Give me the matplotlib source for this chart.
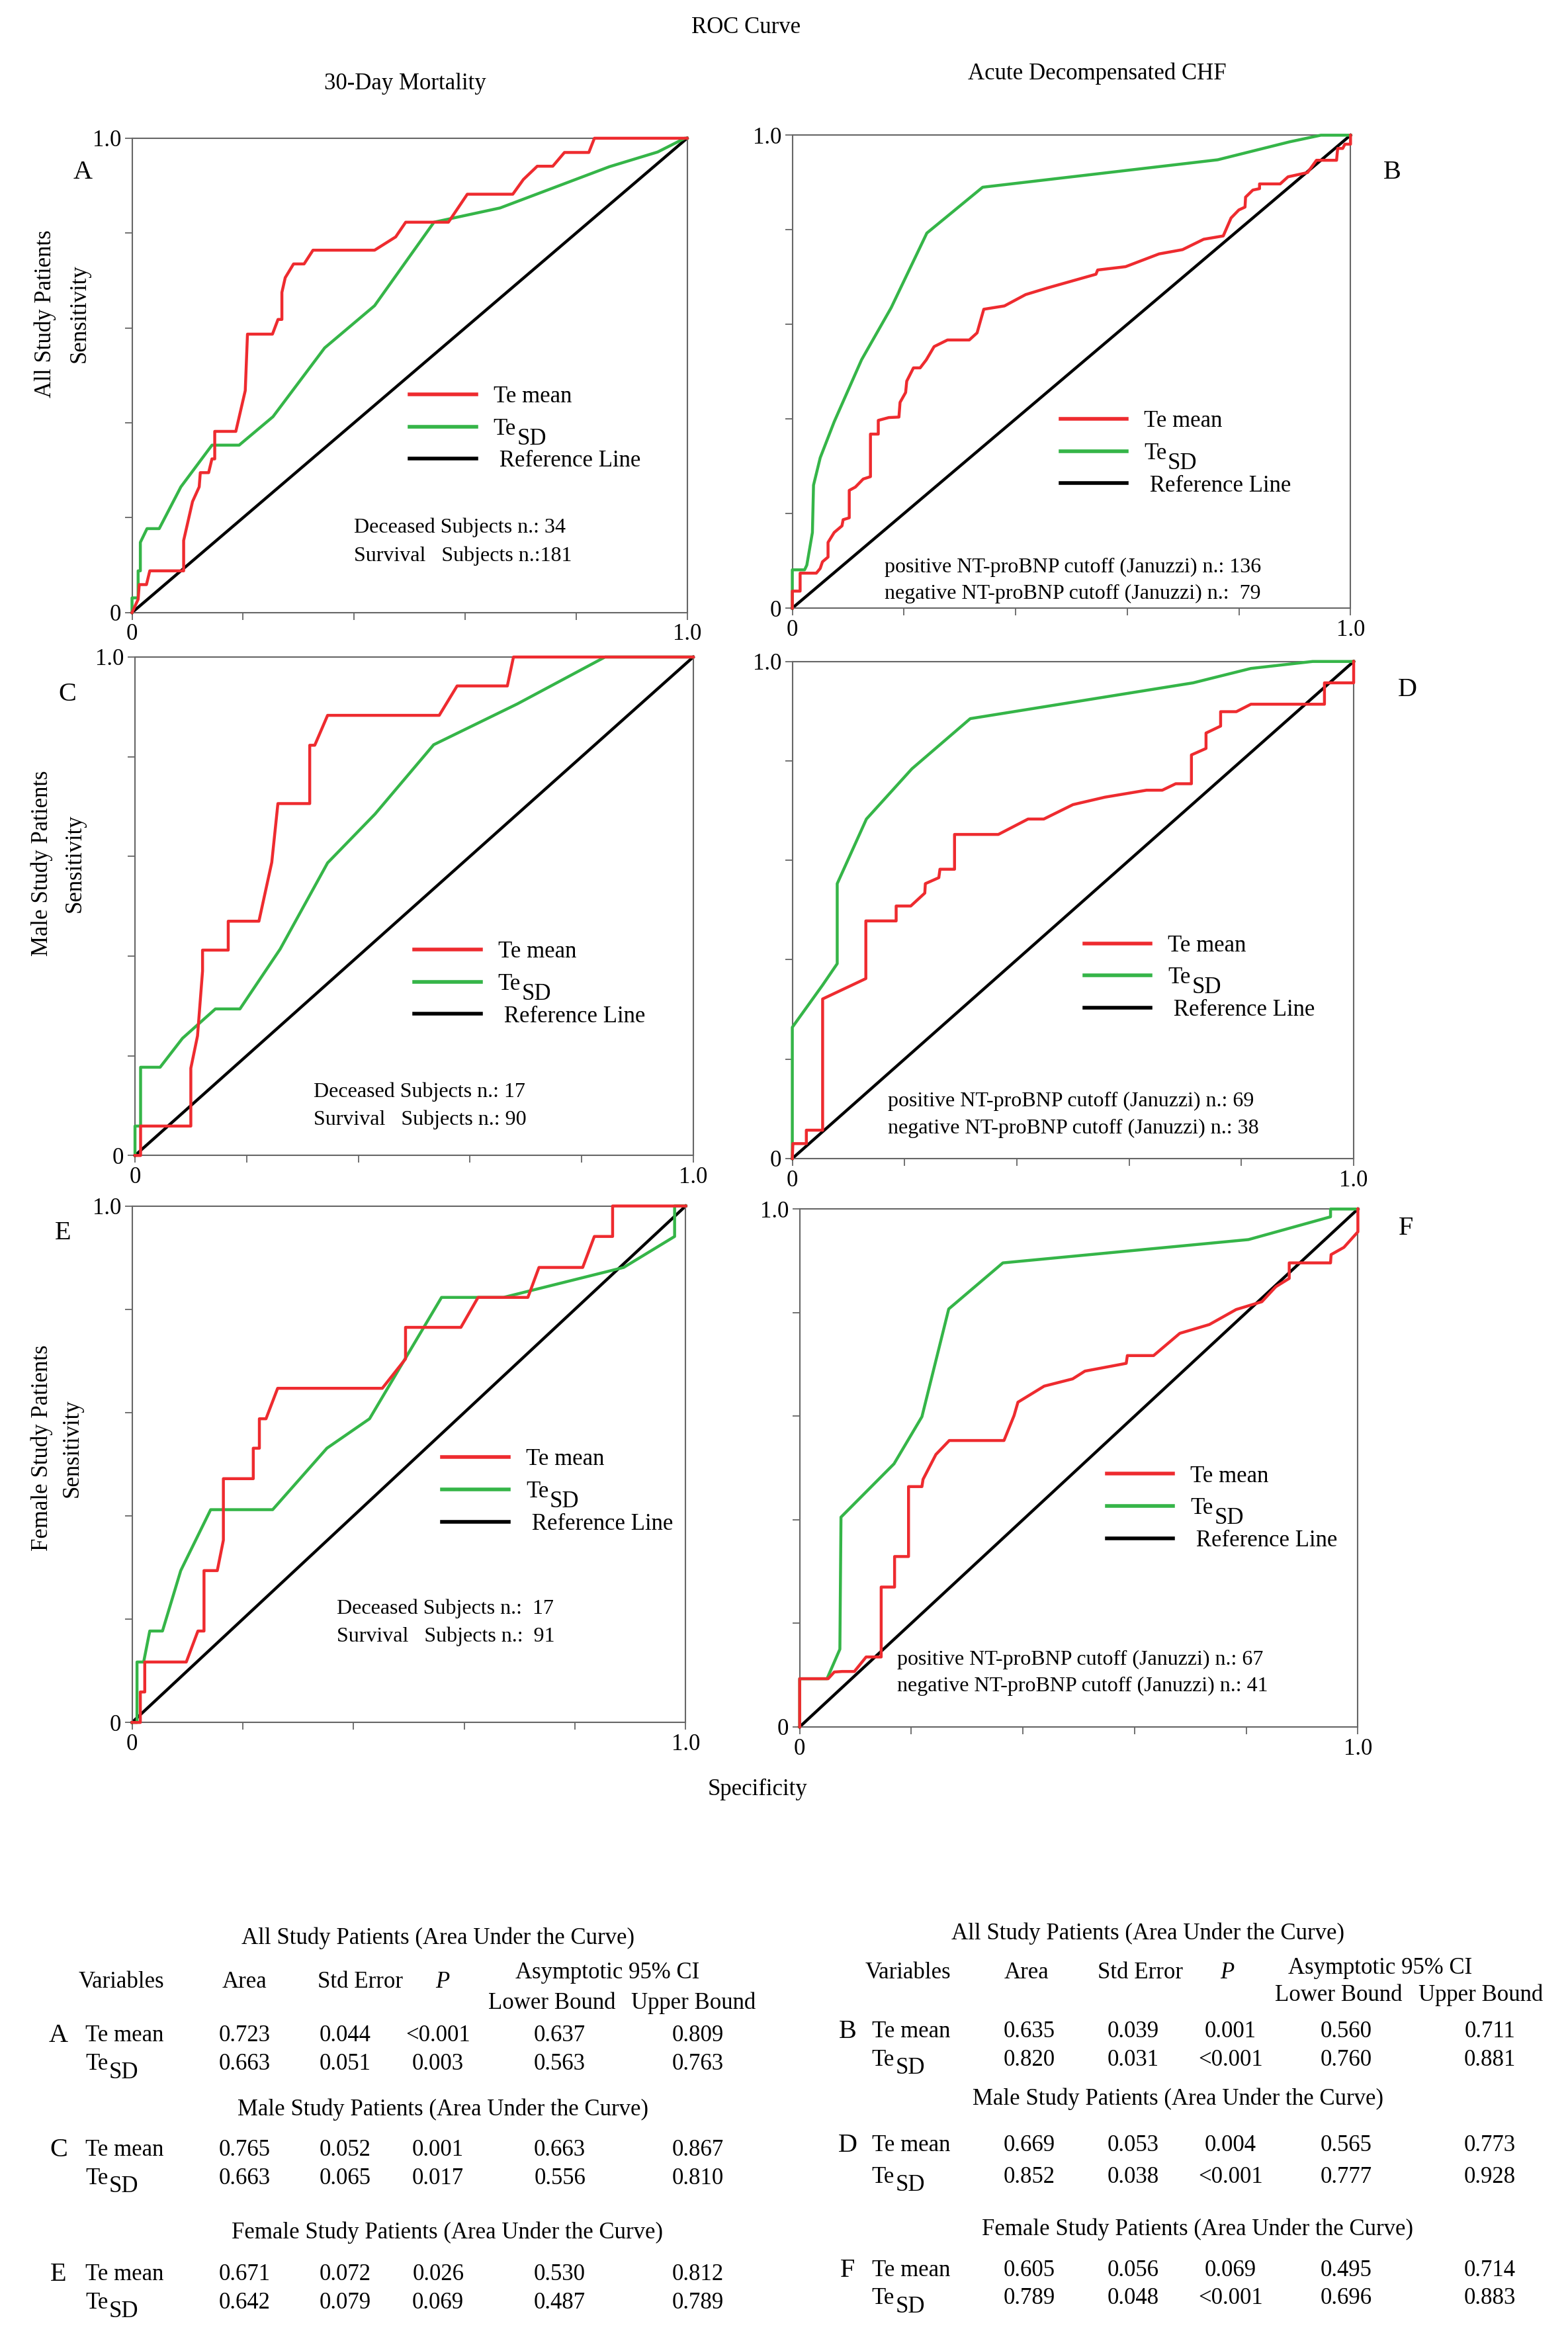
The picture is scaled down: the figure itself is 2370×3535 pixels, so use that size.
import matplotlib
matplotlib.use("Agg")
import matplotlib.pyplot as plt
import numpy as np
from matplotlib.lines import Line2D
from matplotlib.text import Annotation

plt.rcParams['font.family'] = ['Liberation Serif', 'DejaVu Serif']

RED = '#ee2b2f'
GREEN = '#35b548'
FS = 25      # general text
FS_NOTE = 23  # n.: notes inside the panels
FS_LET = 29  # panel letters

# ---- ROC curve points (x = 1 - specificity, y = sensitivity)
a_mean_x = [0, 0.011, 0.013, 0.026, 0.032, 0.093, 0.093, 0.109, 0.121, 0.123, 0.138, 0.144, 0.149, 0.149, 0.187,
            0.204, 0.208, 0.253, 0.263, 0.270, 0.270, 0.276, 0.291, 0.310, 0.326, 0.437, 0.475, 0.493, 0.570, 0.604,
            0.686, 0.705, 0.730, 0.758, 0.779, 0.823, 0.833, 1.0]
a_mean_y = [0, 0.028, 0.059, 0.059, 0.088, 0.088, 0.152, 0.234, 0.265, 0.295, 0.295, 0.324, 0.324, 0.382, 0.382,
            0.468, 0.587, 0.587, 0.618, 0.618, 0.675, 0.706, 0.735, 0.735, 0.764, 0.764, 0.792, 0.823, 0.823, 0.882,
            0.882, 0.913, 0.941, 0.941, 0.970, 0.970, 1.0, 1.0]
a_sd_x = [0, 0, 0.011, 0.011, 0.015, 0.015, 0.027, 0.049, 0.088, 0.144, 0.193, 0.254, 0.347, 0.437, 0.544,
          0.663, 0.860, 0.947, 0.996, 1.0]
a_sd_y = [0, 0.031, 0.031, 0.088, 0.088, 0.148, 0.177, 0.177, 0.265, 0.353, 0.353, 0.413, 0.558, 0.647, 0.823,
          0.853, 0.940, 0.971, 1.0, 1.0]

b_mean_x = [0, 0, 0.014, 0.014, 0.043, 0.050, 0.054, 0.064, 0.064, 0.075, 0.089, 0.091, 0.102, 0.102, 0.113,
            0.127, 0.140, 0.140, 0.154, 0.154, 0.173, 0.191, 0.193, 0.203, 0.205, 0.217, 0.229, 0.240, 0.254, 0.278,
            0.317, 0.331, 0.343, 0.380, 0.418, 0.457, 0.544, 0.547, 0.597, 0.657, 0.699, 0.737, 0.772, 0.786, 0.800,
            0.811, 0.812, 0.825, 0.837, 0.837, 0.874, 0.888, 0.923, 0.939, 0.975, 0.977, 0.986, 0.990, 1.0, 1.0]
b_mean_y = [0, 0.036, 0.036, 0.074, 0.074, 0.084, 0.098, 0.108, 0.139, 0.160, 0.174, 0.187, 0.191, 0.249, 0.256,
            0.273, 0.278, 0.368, 0.368, 0.397, 0.403, 0.404, 0.435, 0.456, 0.480, 0.508, 0.508, 0.525, 0.553, 0.567,
            0.567, 0.582, 0.632, 0.639, 0.663, 0.677, 0.706, 0.715, 0.722, 0.749, 0.758, 0.780, 0.787, 0.825, 0.842,
            0.848, 0.869, 0.884, 0.887, 0.897, 0.897, 0.912, 0.921, 0.947, 0.947, 0.972, 0.972, 0.981, 0.981, 1.0]
b_sd_x = [0, 0, 0.022, 0.026, 0.036, 0.038, 0.050, 0.075, 0.124, 0.177, 0.241, 0.341, 0.762, 0.891, 0.947, 1.0]
b_sd_y = [0, 0.081, 0.081, 0.091, 0.160, 0.260, 0.318, 0.394, 0.525, 0.635, 0.793, 0.890, 0.948, 0.986, 1.0, 1.0]

c_mean_x = [0, 0.010, 0.010, 0.100, 0.100, 0.112, 0.121, 0.121, 0.167, 0.167, 0.222, 0.245, 0.256, 0.313, 0.313,
            0.322, 0.345, 0.545, 0.577, 0.667, 0.678, 1.0]
c_mean_y = [0, 0, 0.059, 0.059, 0.175, 0.240, 0.370, 0.412, 0.412, 0.470, 0.470, 0.588, 0.706, 0.706, 0.823,
            0.823, 0.883, 0.883, 0.942, 0.942, 1.0, 1.0]
c_sd_x = [0, 0, 0.010, 0.010, 0.045, 0.085, 0.144, 0.188, 0.260, 0.345, 0.430, 0.535, 0.685, 0.842, 1.0]
c_sd_y = [0, 0.059, 0.059, 0.177, 0.177, 0.235, 0.294, 0.294, 0.414, 0.587, 0.685, 0.824, 0.906, 1.0, 1.0]

d_mean_x = [0, 0.001, 0.025, 0.025, 0.054, 0.054, 0.131, 0.131, 0.185, 0.185, 0.211, 0.236, 0.237, 0.261, 0.263,
            0.289, 0.289, 0.367, 0.420, 0.448, 0.500, 0.557, 0.631, 0.659, 0.683, 0.711, 0.711, 0.737, 0.737, 0.763,
            0.763, 0.791, 0.817, 0.948, 0.948, 1.0, 1.0]
d_mean_y = [0, 0.030, 0.030, 0.057, 0.057, 0.321, 0.362, 0.478, 0.478, 0.508, 0.508, 0.534, 0.553, 0.565, 0.582,
            0.582, 0.652, 0.652, 0.683, 0.683, 0.712, 0.727, 0.741, 0.741, 0.754, 0.754, 0.812, 0.825, 0.856, 0.870,
            0.899, 0.899, 0.914, 0.914, 0.957, 0.957, 1.0]
d_sd_x = [0, 0, 0.054, 0.080, 0.080, 0.132, 0.213, 0.317, 0.714, 0.817, 0.927, 1.0]
d_sd_y = [0, 0.264, 0.349, 0.392, 0.553, 0.683, 0.784, 0.885, 0.957, 0.986, 1.0, 1.0]

e_mean_x = [0, 0.015, 0.015, 0.023, 0.023, 0.098, 0.119, 0.130, 0.130, 0.154, 0.165, 0.165, 0.219, 0.219, 0.230,
            0.230, 0.242, 0.263, 0.452, 0.494, 0.494, 0.594, 0.625, 0.715, 0.735, 0.814, 0.835, 0.868, 0.868, 1.0]
e_mean_y = [0, 0, 0.059, 0.059, 0.117, 0.117, 0.177, 0.177, 0.294, 0.294, 0.353, 0.472, 0.472, 0.531, 0.531,
            0.588, 0.588, 0.647, 0.647, 0.704, 0.765, 0.765, 0.823, 0.823, 0.881, 0.881, 0.941, 0.941, 1.0, 1.0]
e_sd_x = [0, 0.009, 0.009, 0.021, 0.032, 0.055, 0.088, 0.142, 0.254, 0.352, 0.429, 0.559, 0.671, 0.888, 0.980,
          0.980, 1.0]
e_sd_y = [0, 0, 0.117, 0.117, 0.177, 0.177, 0.294, 0.412, 0.412, 0.531, 0.588, 0.823, 0.823, 0.881, 0.941,
          1.0, 1.0]

f_mean_x = [0, 0, 0.051, 0.062, 0.076, 0.098, 0.119, 0.146, 0.146, 0.170, 0.170, 0.195, 0.195, 0.219, 0.221,
            0.244, 0.268, 0.366, 0.384, 0.391, 0.438, 0.489, 0.511, 0.585, 0.587, 0.634, 0.681, 0.734, 0.782, 0.828,
            0.853, 0.877, 0.877, 0.951, 0.952, 0.975, 1.0, 1.0]
f_mean_y = [0, 0.093, 0.093, 0.106, 0.107, 0.107, 0.135, 0.135, 0.270, 0.270, 0.329, 0.329, 0.464, 0.464, 0.478,
            0.526, 0.553, 0.553, 0.601, 0.627, 0.658, 0.672, 0.687, 0.702, 0.717, 0.717, 0.760, 0.777, 0.806, 0.821,
            0.850, 0.866, 0.896, 0.896, 0.912, 0.926, 0.956, 1.0]
f_sd_x = [0, 0, 0.049, 0.072, 0.074, 0.169, 0.219, 0.267, 0.364, 0.804, 0.951, 0.951, 1.0]
f_sd_y = [0, 0.093, 0.093, 0.150, 0.405, 0.508, 0.599, 0.807, 0.896, 0.941, 0.985, 1.0, 1.0]

ref_x = [0, 1]
ref_y = [0, 1]

# ---- table values
tbl_cols = ['Variables', 'Area', 'Std Error', 'P', 'Lower Bound', 'Upper Bound']
tbl_groups = ['All Study Patients (Area Under the Curve)', 'Male Study Patients (Area Under the Curve)',
              'Female Study Patients (Area Under the Curve)']
tbl_left_letters = ['A', 'C', 'E']
tbl_left_mean = [['0.723', '0.044', '<0.001', '0.637', '0.809'],
                 ['0.765', '0.052', '0.001', '0.663', '0.867'],
                 ['0.671', '0.072', '0.026', '0.530', '0.812']]
tbl_left_sd = [['0.663', '0.051', '0.003', '0.563', '0.763'],
               ['0.663', '0.065', '0.017', '0.556', '0.810'],
               ['0.642', '0.079', '0.069', '0.487', '0.789']]
tbl_right_letters = ['B', 'D', 'F']
tbl_right_mean = [['0.635', '0.039', '0.001', '0.560', '0.711'],
                  ['0.669', '0.053', '0.004', '0.565', '0.773'],
                  ['0.605', '0.056', '0.069', '0.495', '0.714']]
tbl_right_sd = [['0.820', '0.031', '<0.001', '0.760', '0.881'],
                ['0.852', '0.038', '<0.001', '0.777', '0.928'],
                ['0.789', '0.048', '<0.001', '0.696', '0.883']]

fig = plt.figure(figsize=(23.70, 35.35), dpi=100)


def add_sd(parent, fs, drop=0.2):
    # full-size "SD" hanging below the baseline, right after a "Te" text
    fig.add_artist(Annotation('SD', xy=(1, 0), xycoords=parent, xytext=(1, -drop * fs),
                              textcoords='offset points', ha='left', va='baseline', fontsize=fs))


def roc_panel(rect, mx, my, sx, sy, leg_xy, note1, note2, note_x, note_y):
    ax = fig.add_axes(rect)
    ax.plot(ref_x, ref_y, color='black', lw=3.2, clip_on=False, zorder=2)
    ax.plot(sx, sy, color=GREEN, lw=3.2, clip_on=False, zorder=3)
    ax.plot(mx, my, color=RED, lw=3.2, clip_on=False, zorder=4)
    ax.set_xlim(0, 1)
    ax.set_ylim(0, 1)
    ax.set_xticks(np.linspace(0, 1, 6))
    ax.set_yticks(np.linspace(0, 1, 6))
    ax.set_xticklabels(['0', '', '', '', '', '1.0'])
    ax.set_yticklabels(['0', '', '', '', '', '1.0'])
    ax.tick_params(direction='out', length=8, width=1.3, color='#666666', labelsize=FS, pad=4)
    for s in ax.spines.values():
        s.set_color('#666666')
        s.set_linewidth(1.5)
    handles = [Line2D([], [], color=RED, lw=4), Line2D([], [], color=GREEN, lw=4),
               Line2D([], [], color='black', lw=4)]
    leg = ax.legend(handles, ['Te mean', 'Te', ' Reference Line'], loc='upper left', bbox_to_anchor=leg_xy,
                    frameon=False, fontsize=FS, handlelength=2.9, handletextpad=0.75, labelspacing=0.45,
                    borderpad=0, borderaxespad=0)
    add_sd(leg.get_texts()[1], FS)
    ax.text(note_x, note_y[0], note1, transform=ax.transAxes, fontsize=FS_NOTE, va='center', ha='left')
    ax.text(note_x, note_y[1], note2, transform=ax.transAxes, fontsize=FS_NOTE, va='center', ha='left')
    return ax


roc_panel([0.0842, 0.7381, 0.354, 0.2028], a_mean_x, a_mean_y, a_sd_x, a_sd_y, (0.50, 0.478),
          'Deceased Subjects n.: 34', 'Survival   Subjects n.:181', 0.40, (0.18, 0.12))
roc_panel([0.5053, 0.7400, 0.356, 0.2022], b_mean_x, b_mean_y, b_sd_x, b_sd_y, (0.48, 0.418),
          'positive NT-proBNP cutoff (Januzzi) n.: 136', 'negative NT-proBNP cutoff (Januzzi) n.:  79',
          0.165, (0.086, 0.03))
roc_panel([0.0861, 0.5060, 0.356, 0.2131], c_mean_x, c_mean_y, c_sd_x, c_sd_y, (0.50, 0.43),
          'Deceased Subjects n.: 17', 'Survival   Subjects n.: 90', 0.32, (0.127, 0.072))
roc_panel([0.5053, 0.5047, 0.358, 0.2125], d_mean_x, d_mean_y, d_sd_x, d_sd_y, (0.52, 0.45),
          'positive NT-proBNP cutoff (Januzzi) n.: 69', 'negative NT-proBNP cutoff (Januzzi) n.: 38',
          0.17, (0.115, 0.06))
roc_panel([0.0842, 0.2636, 0.3531, 0.2208], e_mean_x, e_mean_y, e_sd_x, e_sd_y, (0.56, 0.53),
          'Deceased Subjects n.:  17', 'Survival   Subjects n.:  91', 0.37, (0.22, 0.166))
roc_panel([0.5100, 0.2617, 0.356, 0.2214], f_mean_x, f_mean_y, f_sd_x, f_sd_y, (0.55, 0.505),
          'positive NT-proBNP cutoff (Januzzi) n.: 67', 'negative NT-proBNP cutoff (Januzzi) n.: 41',
          0.175, (0.13, 0.078))

# ---- titles and side labels
fig.text(0.4756, 0.9884, 'ROC Curve', ha='center', va='center', fontsize=FS)
fig.text(0.2584, 0.9641, '30-Day Mortality', ha='center', va='center', fontsize=FS)
fig.text(0.6995, 0.9686, 'Acute Decompensated CHF', ha='center', va='center', fontsize=FS)
fig.text(0.483, 0.235, 'Specificity', ha='center', va='center', fontsize=FS)

for x1, x2, y, name in [(0.0287, 0.0507, 0.866, 'All Study Patients'),
                        (0.0268, 0.0478, 0.631, 'Male Study Patients'),
                        (0.0268, 0.0459, 0.381, 'Female Study Patients')]:
    fig.text(x1, y, name, rotation=90, ha='center', va='center', fontsize=FS)
    fig.text(x2, y, 'Sensitivity', rotation=90, ha='center', va='center', fontsize=FS)

for x, y, letter in [(0.0526, 0.9262, 'A'), (0.888, 0.9262, 'B'), (0.0431, 0.7030, 'C'),
                     (0.8976, 0.7050, 'D'), (0.0402, 0.4728, 'E'), (0.8967, 0.4748, 'F')]:
    fig.text(x, y, letter, ha='center', va='center', fontsize=FS_LET)


# ---- AUC tables
def auc_table(x_letter, x_name, x_vars, col_x, head_x, ci_x, title_x, title_y, head_y, ci_y, sub_y,
              row_y, sd_y, letters, mean_rows, sd_rows):
    fig.text(x_vars, head_y, tbl_cols[0], ha='center', va='center', fontsize=FS)
    fig.text(head_x[0], head_y, tbl_cols[1], ha='center', va='center', fontsize=FS)
    fig.text(head_x[1], head_y, tbl_cols[2], ha='center', va='center', fontsize=FS)
    fig.text(head_x[2], head_y, tbl_cols[3], ha='center', va='center', fontsize=FS, style='italic')
    fig.text(ci_x, ci_y, 'Asymptotic 95% CI', ha='center', va='center', fontsize=FS)
    fig.text(head_x[3], sub_y, tbl_cols[4], ha='center', va='center', fontsize=FS)
    fig.text(head_x[4], sub_y, tbl_cols[5], ha='center', va='center', fontsize=FS)
    for i in range(3):
        fig.text(title_x[i], title_y[i], tbl_groups[i], ha='center', va='center', fontsize=FS)
        fig.text(x_letter, row_y[i], letters[i], ha='center', va='center', fontsize=FS_LET)
        fig.text(x_name, row_y[i], 'Te mean', ha='left', va='center', fontsize=FS)
        te = fig.text(x_name, sd_y[i], 'Te', ha='left', va='center', fontsize=FS)
        add_sd(te, FS, 0.12)
        for j in range(5):
            fig.text(col_x[j], row_y[i], mean_rows[i][j], ha='center', va='center', fontsize=FS)
            fig.text(col_x[j], sd_y[i], sd_rows[i][j], ha='center', va='center', fontsize=FS)


auc_table(0.0373, 0.0545, 0.0775, [0.156, 0.2201, 0.2794, 0.357, 0.445],
          [0.156, 0.2297, 0.2823, 0.3522, 0.4421], 0.3876,
          [0.2794, 0.2823, 0.2852], [0.1713, 0.0981, 0.0455], 0.1527, 0.1565, 0.1437,
          [0.1296, 0.0808, 0.0275], [0.1174, 0.0686, 0.0153],
          tbl_left_letters, tbl_left_mean, tbl_left_sd)
auc_table(0.5407, 0.556, 0.579, [0.6565, 0.7225, 0.7847, 0.8584, 0.9502],
          [0.6545, 0.7273, 0.7828, 0.8536, 0.9445], 0.8804,
          [0.732, 0.7512, 0.7636], [0.1732, 0.1026, 0.0468], 0.1565, 0.1585, 0.1469,
          [0.1315, 0.0827, 0.0294], [0.1193, 0.0692, 0.0173],
          tbl_right_letters, tbl_right_mean, tbl_right_sd)

fig.savefig('out.png', dpi=100, facecolor='white')
